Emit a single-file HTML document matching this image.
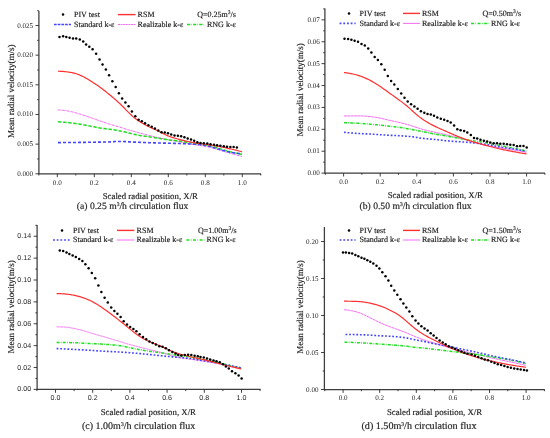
<!DOCTYPE html>
<html><head><meta charset="utf-8"><style>
html,body{margin:0;padding:0;background:#fff;width:550px;height:438px;overflow:hidden}
svg{display:block;filter:blur(0.3px)}
text{stroke:#1e1e1e;stroke-width:0.16px}
.tk text{stroke:none}
</style></head><body>
<svg width="550" height="438" viewBox="0 0 550 438" text-rendering="geometricPrecision">
<rect width="550" height="438" fill="#fff"/>
<clipPath id="clipa"><rect x="39.5" y="11" width="222.1" height="162.2"/></clipPath>
<g clip-path="url(#clipa)" fill="none" stroke-linejoin="round">
<path d="M58.00 109.90 L59.00 109.97 L60.00 110.05 L61.00 110.13 L62.00 110.23 L63.00 110.34 L64.00 110.45 L65.00 110.58 L66.00 110.72 L67.00 110.87 L68.00 111.03 L69.00 111.21 L70.00 111.41 L71.00 111.63 L72.00 111.86 L73.00 112.11 L74.00 112.37 L75.00 112.64 L76.00 112.92 L77.00 113.20 L78.00 113.49 L79.00 113.79 L80.00 114.09 L81.00 114.40 L82.00 114.72 L83.00 115.05 L84.00 115.38 L85.00 115.72 L86.00 116.06 L87.00 116.41 L88.00 116.76 L89.00 117.11 L90.00 117.46 L91.00 117.81 L92.00 118.16 L93.00 118.51 L94.00 118.86 L95.00 119.21 L96.00 119.57 L97.00 119.92 L98.00 120.27 L99.00 120.62 L100.00 120.97 L101.00 121.31 L102.00 121.65 L103.00 121.99 L104.00 122.33 L105.00 122.66 L106.00 122.99 L107.00 123.32 L108.00 123.64 L109.00 123.96 L110.00 124.27 L111.00 124.58 L112.00 124.89 L113.00 125.18 L114.00 125.47 L115.00 125.75 L116.00 126.03 L117.00 126.30 L118.00 126.58 L119.00 126.86 L120.00 127.16 L121.00 127.47 L122.00 127.80 L123.00 128.13 L124.00 128.47 L125.00 128.80 L126.00 129.13 L127.00 129.45 L128.00 129.75 L129.00 130.04 L130.00 130.32 L131.00 130.59 L132.00 130.85 L133.00 131.12 L134.00 131.39 L135.00 131.66 L136.00 131.94 L137.00 132.22 L138.00 132.51 L139.00 132.79 L140.00 133.08 L141.00 133.36 L142.00 133.64 L143.00 133.91 L144.00 134.18 L145.00 134.44 L146.00 134.70 L147.00 134.96 L148.00 135.22 L149.00 135.47 L150.00 135.73 L151.00 135.98 L152.00 136.23 L153.00 136.48 L154.00 136.72 L155.00 136.95 L156.00 137.18 L157.00 137.40 L158.00 137.61 L159.00 137.81 L160.00 138.01 L161.00 138.20 L162.00 138.40 L163.00 138.59 L164.00 138.79 L165.00 138.99 L166.00 139.20 L167.00 139.40 L168.00 139.60 L169.00 139.81 L170.00 140.01 L171.00 140.21 L172.00 140.41 L173.00 140.60 L174.00 140.80 L175.00 140.99 L176.00 141.18 L177.00 141.37 L178.00 141.56 L179.00 141.75 L180.00 141.95 L181.00 142.14 L182.00 142.33 L183.00 142.52 L184.00 142.71 L185.00 142.91 L186.00 143.10 L187.00 143.30 L188.00 143.50 L189.00 143.69 L190.00 143.88 L191.00 144.07 L192.00 144.25 L193.00 144.42 L194.00 144.59 L195.00 144.74 L196.00 144.90 L197.00 145.05 L198.00 145.20 L199.00 145.36 L200.00 145.51 L201.00 145.67 L202.00 145.83 L203.00 146.00 L204.00 146.17 L205.00 146.34 L206.00 146.53 L207.00 146.71 L208.00 146.91 L209.00 147.12 L210.00 147.34 L211.00 147.57 L212.00 147.82 L213.00 148.08 L214.00 148.36 L215.00 148.65 L216.00 148.95 L217.00 149.26 L218.00 149.57 L219.00 149.88 L220.00 150.20 L221.00 150.51 L222.00 150.82 L223.00 151.12 L224.00 151.42 L225.00 151.71 L226.00 152.00 L227.00 152.28 L228.00 152.57 L229.00 152.85 L230.00 153.13 L231.00 153.42 L232.00 153.70 L233.00 153.99 L234.00 154.28 L235.00 154.57 L236.00 154.86 L237.00 155.15 L238.00 155.44 L239.00 155.73 L240.00 156.02 L241.00 156.32 L242.00 156.61" stroke="#f46cf4" stroke-width="1.0" stroke-dasharray="2.5 0.5 0.8 0.5"/>
<path d="M58.00 121.80 L59.00 121.86 L60.00 121.92 L61.00 121.99 L62.00 122.06 L63.00 122.13 L64.00 122.21 L65.00 122.29 L66.00 122.38 L67.00 122.47 L68.00 122.57 L69.00 122.67 L70.00 122.78 L71.00 122.89 L72.00 123.01 L73.00 123.14 L74.00 123.27 L75.00 123.41 L76.00 123.55 L77.00 123.70 L78.00 123.85 L79.00 124.00 L80.00 124.17 L81.00 124.34 L82.00 124.51 L83.00 124.70 L84.00 124.89 L85.00 125.08 L86.00 125.27 L87.00 125.47 L88.00 125.67 L89.00 125.87 L90.00 126.06 L91.00 126.26 L92.00 126.46 L93.00 126.65 L94.00 126.85 L95.00 127.05 L96.00 127.24 L97.00 127.44 L98.00 127.62 L99.00 127.81 L100.00 127.98 L101.00 128.15 L102.00 128.31 L103.00 128.45 L104.00 128.59 L105.00 128.72 L106.00 128.84 L107.00 128.96 L108.00 129.07 L109.00 129.19 L110.00 129.31 L111.00 129.43 L112.00 129.56 L113.00 129.69 L114.00 129.84 L115.00 129.99 L116.00 130.16 L117.00 130.34 L118.00 130.52 L119.00 130.72 L120.00 130.93 L121.00 131.14 L122.00 131.36 L123.00 131.59 L124.00 131.83 L125.00 132.07 L126.00 132.31 L127.00 132.56 L128.00 132.80 L129.00 133.05 L130.00 133.30 L131.00 133.54 L132.00 133.79 L133.00 134.02 L134.00 134.26 L135.00 134.48 L136.00 134.69 L137.00 134.90 L138.00 135.10 L139.00 135.29 L140.00 135.47 L141.00 135.64 L142.00 135.80 L143.00 135.95 L144.00 136.10 L145.00 136.24 L146.00 136.38 L147.00 136.52 L148.00 136.66 L149.00 136.81 L150.00 136.96 L151.00 137.12 L152.00 137.28 L153.00 137.44 L154.00 137.60 L155.00 137.76 L156.00 137.92 L157.00 138.07 L158.00 138.22 L159.00 138.36 L160.00 138.50 L161.00 138.64 L162.00 138.79 L163.00 138.93 L164.00 139.09 L165.00 139.25 L166.00 139.41 L167.00 139.57 L168.00 139.73 L169.00 139.89 L170.00 140.03 L171.00 140.16 L172.00 140.28 L173.00 140.39 L174.00 140.49 L175.00 140.60 L176.00 140.70 L177.00 140.81 L178.00 140.93 L179.00 141.06 L180.00 141.20 L181.00 141.35 L182.00 141.51 L183.00 141.67 L184.00 141.84 L185.00 142.00 L186.00 142.15 L187.00 142.30 L188.00 142.44 L189.00 142.59 L190.00 142.73 L191.00 142.87 L192.00 143.02 L193.00 143.17 L194.00 143.32 L195.00 143.48 L196.00 143.64 L197.00 143.80 L198.00 143.96 L199.00 144.12 L200.00 144.28 L201.00 144.42 L202.00 144.56 L203.00 144.70 L204.00 144.84 L205.00 144.97 L206.00 145.11 L207.00 145.26 L208.00 145.42 L209.00 145.59 L210.00 145.78 L211.00 146.00 L212.00 146.24 L213.00 146.51 L214.00 146.80 L215.00 147.11 L216.00 147.44 L217.00 147.78 L218.00 148.13 L219.00 148.48 L220.00 148.82 L221.00 149.16 L222.00 149.48 L223.00 149.79 L224.00 150.08 L225.00 150.37 L226.00 150.64 L227.00 150.90 L228.00 151.16 L229.00 151.41 L230.00 151.66 L231.00 151.91 L232.00 152.16 L233.00 152.40 L234.00 152.64 L235.00 152.88 L236.00 153.12 L237.00 153.36 L238.00 153.60 L239.00 153.83 L240.00 154.07 L241.00 154.30 L242.00 154.53" stroke="#1fe01f" stroke-width="1.5" stroke-dasharray="3.5 1.6"/>
<path d="M58.00 142.60 L59.00 142.59 L60.00 142.59 L61.00 142.58 L62.00 142.58 L63.00 142.57 L64.00 142.56 L65.00 142.56 L66.00 142.55 L67.00 142.54 L68.00 142.53 L69.00 142.52 L70.00 142.52 L71.00 142.51 L72.00 142.50 L73.00 142.49 L74.00 142.48 L75.00 142.47 L76.00 142.45 L77.00 142.44 L78.00 142.43 L79.00 142.42 L80.00 142.40 L81.00 142.39 L82.00 142.38 L83.00 142.36 L84.00 142.35 L85.00 142.33 L86.00 142.32 L87.00 142.30 L88.00 142.29 L89.00 142.27 L90.00 142.26 L91.00 142.24 L92.00 142.23 L93.00 142.21 L94.00 142.20 L95.00 142.18 L96.00 142.17 L97.00 142.15 L98.00 142.14 L99.00 142.13 L100.00 142.12 L101.00 142.10 L102.00 142.09 L103.00 142.07 L104.00 142.06 L105.00 142.04 L106.00 142.02 L107.00 142.00 L108.00 141.97 L109.00 141.94 L110.00 141.90 L111.00 141.85 L112.00 141.79 L113.00 141.72 L114.00 141.64 L115.00 141.57 L116.00 141.51 L117.00 141.47 L118.00 141.44 L119.00 141.43 L120.00 141.43 L121.00 141.45 L122.00 141.47 L123.00 141.51 L124.00 141.55 L125.00 141.61 L126.00 141.66 L127.00 141.72 L128.00 141.78 L129.00 141.83 L130.00 141.89 L131.00 141.94 L132.00 141.99 L133.00 142.03 L134.00 142.08 L135.00 142.12 L136.00 142.17 L137.00 142.21 L138.00 142.25 L139.00 142.30 L140.00 142.34 L141.00 142.38 L142.00 142.42 L143.00 142.47 L144.00 142.51 L145.00 142.55 L146.00 142.58 L147.00 142.62 L148.00 142.66 L149.00 142.69 L150.00 142.72 L151.00 142.76 L152.00 142.79 L153.00 142.82 L154.00 142.84 L155.00 142.87 L156.00 142.90 L157.00 142.93 L158.00 142.95 L159.00 142.98 L160.00 143.00 L161.00 143.03 L162.00 143.06 L163.00 143.08 L164.00 143.11 L165.00 143.14 L166.00 143.16 L167.00 143.19 L168.00 143.22 L169.00 143.24 L170.00 143.27 L171.00 143.29 L172.00 143.32 L173.00 143.35 L174.00 143.38 L175.00 143.40 L176.00 143.43 L177.00 143.47 L178.00 143.50 L179.00 143.53 L180.00 143.57 L181.00 143.60 L182.00 143.64 L183.00 143.68 L184.00 143.72 L185.00 143.76 L186.00 143.80 L187.00 143.84 L188.00 143.89 L189.00 143.93 L190.00 143.98 L191.00 144.02 L192.00 144.07 L193.00 144.11 L194.00 144.16 L195.00 144.21 L196.00 144.26 L197.00 144.32 L198.00 144.39 L199.00 144.47 L200.00 144.57 L201.00 144.69 L202.00 144.83 L203.00 144.99 L204.00 145.18 L205.00 145.38 L206.00 145.60 L207.00 145.84 L208.00 146.08 L209.00 146.33 L210.00 146.59 L211.00 146.86 L212.00 147.13 L213.00 147.42 L214.00 147.71 L215.00 148.01 L216.00 148.32 L217.00 148.63 L218.00 148.94 L219.00 149.25 L220.00 149.56 L221.00 149.85 L222.00 150.14 L223.00 150.42 L224.00 150.69 L225.00 150.95 L226.00 151.21 L227.00 151.46 L228.00 151.69 L229.00 151.92 L230.00 152.14 L231.00 152.34 L232.00 152.52 L233.00 152.69 L234.00 152.84 L235.00 152.98 L236.00 153.11 L237.00 153.23 L238.00 153.34 L239.00 153.44 L240.00 153.53 L241.00 153.61 L242.00 153.69" stroke="#4444ff" stroke-width="1.6" stroke-dasharray="3 2"/>
<path d="M58.00 71.20 L59.00 71.24 L60.00 71.29 L61.00 71.34 L62.00 71.40 L63.00 71.47 L64.00 71.55 L65.00 71.64 L66.00 71.75 L67.00 71.86 L68.00 72.00 L69.00 72.15 L70.00 72.32 L71.00 72.50 L72.00 72.70 L73.00 72.93 L74.00 73.17 L75.00 73.44 L76.00 73.73 L77.00 74.05 L78.00 74.40 L79.00 74.78 L80.00 75.18 L81.00 75.62 L82.00 76.08 L83.00 76.57 L84.00 77.09 L85.00 77.62 L86.00 78.18 L87.00 78.75 L88.00 79.35 L89.00 79.95 L90.00 80.57 L91.00 81.20 L92.00 81.84 L93.00 82.48 L94.00 83.13 L95.00 83.78 L96.00 84.44 L97.00 85.11 L98.00 85.79 L99.00 86.49 L100.00 87.21 L101.00 87.95 L102.00 88.71 L103.00 89.48 L104.00 90.26 L105.00 91.05 L106.00 91.84 L107.00 92.64 L108.00 93.43 L109.00 94.23 L110.00 95.03 L111.00 95.84 L112.00 96.67 L113.00 97.51 L114.00 98.38 L115.00 99.27 L116.00 100.16 L117.00 101.06 L118.00 101.96 L119.00 102.88 L120.00 103.81 L121.00 104.76 L122.00 105.74 L123.00 106.75 L124.00 107.77 L125.00 108.80 L126.00 109.82 L127.00 110.84 L128.00 111.84 L129.00 112.83 L130.00 113.81 L131.00 114.78 L132.00 115.72 L133.00 116.62 L134.00 117.47 L135.00 118.28 L136.00 119.05 L137.00 119.77 L138.00 120.47 L139.00 121.13 L140.00 121.78 L141.00 122.40 L142.00 123.00 L143.00 123.58 L144.00 124.14 L145.00 124.68 L146.00 125.20 L147.00 125.71 L148.00 126.21 L149.00 126.70 L150.00 127.18 L151.00 127.65 L152.00 128.12 L153.00 128.58 L154.00 129.04 L155.00 129.51 L156.00 129.98 L157.00 130.45 L158.00 130.94 L159.00 131.43 L160.00 131.93 L161.00 132.43 L162.00 132.94 L163.00 133.45 L164.00 133.96 L165.00 134.46 L166.00 134.94 L167.00 135.40 L168.00 135.84 L169.00 136.25 L170.00 136.63 L171.00 136.99 L172.00 137.32 L173.00 137.63 L174.00 137.93 L175.00 138.22 L176.00 138.50 L177.00 138.77 L178.00 139.04 L179.00 139.31 L180.00 139.58 L181.00 139.84 L182.00 140.10 L183.00 140.36 L184.00 140.61 L185.00 140.85 L186.00 141.08 L187.00 141.31 L188.00 141.53 L189.00 141.74 L190.00 141.94 L191.00 142.13 L192.00 142.32 L193.00 142.51 L194.00 142.68 L195.00 142.85 L196.00 143.01 L197.00 143.17 L198.00 143.32 L199.00 143.46 L200.00 143.60 L201.00 143.73 L202.00 143.87 L203.00 144.00 L204.00 144.13 L205.00 144.26 L206.00 144.40 L207.00 144.53 L208.00 144.67 L209.00 144.80 L210.00 144.94 L211.00 145.09 L212.00 145.24 L213.00 145.39 L214.00 145.55 L215.00 145.72 L216.00 145.89 L217.00 146.07 L218.00 146.25 L219.00 146.44 L220.00 146.64 L221.00 146.84 L222.00 147.04 L223.00 147.25 L224.00 147.46 L225.00 147.68 L226.00 147.91 L227.00 148.13 L228.00 148.36 L229.00 148.58 L230.00 148.81 L231.00 149.04 L232.00 149.26 L233.00 149.49 L234.00 149.72 L235.00 149.96 L236.00 150.20 L237.00 150.45 L238.00 150.71 L239.00 150.97 L240.00 151.25 L241.00 151.53 L242.00 151.81" stroke="#ff3030" stroke-width="1.2"/>
</g>
<g fill="#000000">
<circle cx="59.5" cy="37" r="1.25"/>
<circle cx="63.1" cy="36.3" r="1.25"/>
<circle cx="66.3" cy="37" r="1.25"/>
<circle cx="69.6" cy="37.7" r="1.25"/>
<circle cx="73" cy="38.4" r="1.25"/>
<circle cx="76.2" cy="38.4" r="1.25"/>
<circle cx="79.8" cy="39.5" r="1.25"/>
<circle cx="83.2" cy="41.6" r="1.25"/>
<circle cx="86.1" cy="44.5" r="1.25"/>
<circle cx="89.3" cy="46.7" r="1.25"/>
<circle cx="92.6" cy="49.3" r="1.25"/>
<circle cx="96.1" cy="53.7" r="1.25"/>
<circle cx="99.5" cy="59.4" r="1.25"/>
<circle cx="102.55" cy="64.45" r="1.25"/>
<circle cx="105.85" cy="69.5" r="1.25"/>
<circle cx="109.1" cy="75.15" r="1.25"/>
<circle cx="112.4" cy="81.2" r="1.25"/>
<circle cx="115.7" cy="87.05" r="1.25"/>
<circle cx="118.9" cy="93.2" r="1.25"/>
<circle cx="122.15" cy="98.45" r="1.25"/>
<circle cx="125.4" cy="102.45" r="1.25"/>
<circle cx="128.6" cy="106.15" r="1.25"/>
<circle cx="131.9" cy="111.5" r="1.25"/>
<circle cx="135.3" cy="116.2" r="1.25"/>
<circle cx="138.6" cy="119.8" r="1.25"/>
<circle cx="141.8" cy="121.3" r="1.25"/>
<circle cx="145" cy="123.2" r="1.25"/>
<circle cx="148.4" cy="125.2" r="1.25"/>
<circle cx="151.7" cy="126.8" r="1.25"/>
<circle cx="154.9" cy="128.5" r="1.25"/>
<circle cx="158.3" cy="130.4" r="1.25"/>
<circle cx="161.5" cy="132.2" r="1.25"/>
<circle cx="164.8" cy="132.6" r="1.25"/>
<circle cx="168" cy="133.3" r="1.25"/>
<circle cx="171.2" cy="134.4" r="1.25"/>
<circle cx="174.5" cy="135.4" r="1.25"/>
<circle cx="177.9" cy="135.8" r="1.25"/>
<circle cx="181.1" cy="136.3" r="1.25"/>
<circle cx="184.4" cy="137.3" r="1.25"/>
<circle cx="187.7" cy="138.45" r="1.25"/>
<circle cx="191" cy="139.5" r="1.25"/>
<circle cx="194.2" cy="140.75" r="1.25"/>
<circle cx="197.35" cy="142.2" r="1.25"/>
<circle cx="200.5" cy="142.9" r="1.25"/>
<circle cx="203.8" cy="143.3" r="1.25"/>
<circle cx="207.3" cy="143.5" r="1.25"/>
<circle cx="210.5" cy="144.2" r="1.25"/>
<circle cx="214" cy="144.8" r="1.25"/>
<circle cx="217.1" cy="145.2" r="1.25"/>
<circle cx="220.4" cy="145.8" r="1.25"/>
<circle cx="223.8" cy="146.3" r="1.25"/>
<circle cx="227" cy="146.7" r="1.25"/>
<circle cx="230.4" cy="147.1" r="1.25"/>
<circle cx="233.6" cy="147.1" r="1.25"/>
<circle cx="236.9" cy="147.4" r="1.25"/>
</g>
<path d="M38.9 11 V173.8 H261" fill="none" stroke="#3c3c3c" stroke-width="1.25"/>
<path d="M35.5 173.8 H38.9 M37.2 158.97 H38.9 M35.5 144.14 H38.9 M37.2 129.31 H38.9 M35.5 114.48 H38.9 M37.2 99.65 H38.9 M35.5 84.82 H38.9 M37.2 69.99 H38.9 M35.5 55.16 H38.9 M37.2 40.33 H38.9 M35.5 25.5 H38.9 M37.2 10.67 H38.9 M38.8 173.8 V175.5 M57.3 173.8 V177.2 M75.8 173.8 V175.5 M94.3 173.8 V177.2 M112.8 173.8 V175.5 M131.3 173.8 V177.2 M149.8 173.8 V175.5 M168.3 173.8 V177.2 M186.8 173.8 V175.5 M205.3 173.8 V177.2 M223.8 173.8 V175.5 M242.3 173.8 V177.2 M260.8 173.8 V175.5" fill="none" stroke="#2a2a2a" stroke-width="0.9"/>
<g class="tk" font-family='"Liberation Serif", serif' font-size="7.1" fill="#262626">
<text x="33.1" y="175.81" text-anchor="end">0.000</text>
<text x="33.1" y="146.15" text-anchor="end">0.005</text>
<text x="33.1" y="116.49" text-anchor="end">0.010</text>
<text x="33.1" y="86.83" text-anchor="end">0.015</text>
<text x="33.1" y="57.17" text-anchor="end">0.020</text>
<text x="33.1" y="27.51" text-anchor="end">0.025</text>
<text x="57.3" y="184.71" text-anchor="middle">0.0</text>
<text x="94.3" y="184.71" text-anchor="middle">0.2</text>
<text x="131.3" y="184.71" text-anchor="middle">0.4</text>
<text x="168.3" y="184.71" text-anchor="middle">0.6</text>
<text x="205.3" y="184.71" text-anchor="middle">0.8</text>
<text x="242.3" y="184.71" text-anchor="middle">1.0</text>
</g>
<g font-family='"Liberation Serif", serif' font-size="8.0" fill="#1e1e1e">
<circle cx="63" cy="14.6" r="1.25" fill="#000"/>
<text x="74" y="17">PIV test</text>
<text x="74" y="26.9">Standard k-&#949;</text>
<text x="137.6" y="17">RSM</text>
<text x="137.6" y="26.9">Realizable k-&#949;</text>
<text x="197.3" y="17">Q=0.25m<tspan font-size="5.5" dy="-3">3</tspan><tspan dy="3">/s</tspan></text>
<text x="207" y="26.9">RNG k-&#949;</text>
</g>
<path d="M54 24.5 H71" stroke="#4444ff" stroke-width="1.6" stroke-dasharray="2.7 1"/>
<path d="M118 14.6 H135.5" stroke="#ff3030" stroke-width="1.4"/>
<path d="M118 24.5 H135.5" stroke="#f46cf4" stroke-width="1.0" stroke-dasharray="2 0.6"/>
<path d="M187 24.5 H203.6" stroke="#1fe01f" stroke-width="1.5" stroke-dasharray="3.2 0.8 0.6 1.5"/>
<text x="102.7" y="198.8" font-family='"Liberation Serif", serif' font-size="8.8" fill="#1e1e1e">Scaled radial position, X/R</text>
<text x="76.8" y="209" font-family='"Liberation Serif", serif' font-size="9.65" fill="#1e1e1e">(a) 0.25 m<tspan font-size="5.6" dy="-3.0">3</tspan><tspan dy="3.0">/h circulation flux</tspan></text>
<text transform="translate(13.5 138) rotate(-90)" font-family='"Liberation Serif", serif' font-size="9.0" fill="#1e1e1e">Mean radial velocity(m/s)</text>
<clipPath id="clipb"><rect x="325.5" y="8.5" width="220.1" height="164"/></clipPath>
<g clip-path="url(#clipb)" fill="none" stroke-linejoin="round">
<path d="M344.00 116.00 L345.00 115.99 L346.00 115.97 L347.00 115.96 L348.00 115.95 L349.00 115.94 L350.00 115.93 L351.00 115.92 L352.00 115.92 L353.00 115.91 L354.00 115.91 L355.00 115.91 L356.00 115.90 L357.00 115.90 L358.00 115.90 L359.00 115.91 L360.00 115.91 L361.00 115.93 L362.00 115.95 L363.00 115.98 L364.00 116.03 L365.00 116.09 L366.00 116.16 L367.00 116.24 L368.00 116.34 L369.00 116.45 L370.00 116.56 L371.00 116.68 L372.00 116.81 L373.00 116.94 L374.00 117.08 L375.00 117.22 L376.00 117.38 L377.00 117.54 L378.00 117.71 L379.00 117.90 L380.00 118.10 L381.00 118.31 L382.00 118.53 L383.00 118.76 L384.00 119.00 L385.00 119.24 L386.00 119.48 L387.00 119.72 L388.00 119.95 L389.00 120.19 L390.00 120.41 L391.00 120.64 L392.00 120.86 L393.00 121.08 L394.00 121.29 L395.00 121.50 L396.00 121.72 L397.00 121.94 L398.00 122.15 L399.00 122.38 L400.00 122.61 L401.00 122.84 L402.00 123.08 L403.00 123.33 L404.00 123.59 L405.00 123.86 L406.00 124.14 L407.00 124.42 L408.00 124.71 L409.00 125.01 L410.00 125.32 L411.00 125.63 L412.00 125.94 L413.00 126.27 L414.00 126.59 L415.00 126.92 L416.00 127.25 L417.00 127.58 L418.00 127.91 L419.00 128.24 L420.00 128.55 L421.00 128.86 L422.00 129.16 L423.00 129.45 L424.00 129.73 L425.00 129.99 L426.00 130.24 L427.00 130.49 L428.00 130.72 L429.00 130.95 L430.00 131.17 L431.00 131.38 L432.00 131.59 L433.00 131.81 L434.00 132.01 L435.00 132.22 L436.00 132.44 L437.00 132.65 L438.00 132.87 L439.00 133.09 L440.00 133.31 L441.00 133.53 L442.00 133.76 L443.00 133.98 L444.00 134.21 L445.00 134.44 L446.00 134.67 L447.00 134.91 L448.00 135.14 L449.00 135.38 L450.00 135.62 L451.00 135.86 L452.00 136.11 L453.00 136.36 L454.00 136.62 L455.00 136.88 L456.00 137.15 L457.00 137.42 L458.00 137.69 L459.00 137.97 L460.00 138.25 L461.00 138.53 L462.00 138.82 L463.00 139.10 L464.00 139.39 L465.00 139.68 L466.00 139.97 L467.00 140.26 L468.00 140.55 L469.00 140.84 L470.00 141.14 L471.00 141.44 L472.00 141.73 L473.00 142.03 L474.00 142.33 L475.00 142.62 L476.00 142.91 L477.00 143.19 L478.00 143.46 L479.00 143.71 L480.00 143.96 L481.00 144.20 L482.00 144.42 L483.00 144.63 L484.00 144.84 L485.00 145.04 L486.00 145.24 L487.00 145.43 L488.00 145.62 L489.00 145.81 L490.00 146.00 L491.00 146.18 L492.00 146.37 L493.00 146.55 L494.00 146.73 L495.00 146.91 L496.00 147.09 L497.00 147.27 L498.00 147.45 L499.00 147.62 L500.00 147.80 L501.00 147.97 L502.00 148.15 L503.00 148.32 L504.00 148.49 L505.00 148.66 L506.00 148.83 L507.00 149.00 L508.00 149.17 L509.00 149.33 L510.00 149.48 L511.00 149.64 L512.00 149.79 L513.00 149.94 L514.00 150.08 L515.00 150.23 L516.00 150.38 L517.00 150.53 L518.00 150.69 L519.00 150.86 L520.00 151.04 L521.00 151.23 L522.00 151.44 L523.00 151.65 L524.00 151.88 L525.00 152.11 L526.00 152.35 L526.50 152.48" stroke="#f46cf4" stroke-width="1.0" stroke-dasharray="3 0.4"/>
<path d="M344.00 122.70 L345.00 122.73 L346.00 122.76 L347.00 122.79 L348.00 122.82 L349.00 122.86 L350.00 122.89 L351.00 122.93 L352.00 122.98 L353.00 123.02 L354.00 123.07 L355.00 123.12 L356.00 123.17 L357.00 123.22 L358.00 123.28 L359.00 123.34 L360.00 123.40 L361.00 123.47 L362.00 123.54 L363.00 123.61 L364.00 123.68 L365.00 123.76 L366.00 123.84 L367.00 123.93 L368.00 124.01 L369.00 124.09 L370.00 124.18 L371.00 124.27 L372.00 124.36 L373.00 124.45 L374.00 124.55 L375.00 124.64 L376.00 124.74 L377.00 124.84 L378.00 124.95 L379.00 125.05 L380.00 125.16 L381.00 125.26 L382.00 125.37 L383.00 125.48 L384.00 125.59 L385.00 125.70 L386.00 125.81 L387.00 125.92 L388.00 126.03 L389.00 126.13 L390.00 126.24 L391.00 126.35 L392.00 126.46 L393.00 126.57 L394.00 126.69 L395.00 126.80 L396.00 126.92 L397.00 127.05 L398.00 127.18 L399.00 127.31 L400.00 127.45 L401.00 127.60 L402.00 127.76 L403.00 127.92 L404.00 128.09 L405.00 128.27 L406.00 128.45 L407.00 128.64 L408.00 128.82 L409.00 129.01 L410.00 129.20 L411.00 129.39 L412.00 129.58 L413.00 129.77 L414.00 129.96 L415.00 130.15 L416.00 130.34 L417.00 130.53 L418.00 130.73 L419.00 130.92 L420.00 131.12 L421.00 131.31 L422.00 131.51 L423.00 131.71 L424.00 131.91 L425.00 132.11 L426.00 132.31 L427.00 132.51 L428.00 132.72 L429.00 132.92 L430.00 133.12 L431.00 133.32 L432.00 133.52 L433.00 133.71 L434.00 133.90 L435.00 134.07 L436.00 134.24 L437.00 134.40 L438.00 134.56 L439.00 134.72 L440.00 134.87 L441.00 135.02 L442.00 135.18 L443.00 135.34 L444.00 135.51 L445.00 135.69 L446.00 135.87 L447.00 136.06 L448.00 136.26 L449.00 136.46 L450.00 136.66 L451.00 136.86 L452.00 137.05 L453.00 137.25 L454.00 137.43 L455.00 137.62 L456.00 137.80 L457.00 137.98 L458.00 138.15 L459.00 138.33 L460.00 138.50 L461.00 138.68 L462.00 138.85 L463.00 139.03 L464.00 139.21 L465.00 139.39 L466.00 139.56 L467.00 139.74 L468.00 139.92 L469.00 140.09 L470.00 140.25 L471.00 140.42 L472.00 140.57 L473.00 140.72 L474.00 140.87 L475.00 141.01 L476.00 141.16 L477.00 141.30 L478.00 141.44 L479.00 141.59 L480.00 141.74 L481.00 141.90 L482.00 142.06 L483.00 142.23 L484.00 142.40 L485.00 142.58 L486.00 142.76 L487.00 142.94 L488.00 143.13 L489.00 143.32 L490.00 143.51 L491.00 143.70 L492.00 143.89 L493.00 144.09 L494.00 144.29 L495.00 144.49 L496.00 144.69 L497.00 144.89 L498.00 145.09 L499.00 145.30 L500.00 145.50 L501.00 145.70 L502.00 145.90 L503.00 146.10 L504.00 146.30 L505.00 146.50 L506.00 146.70 L507.00 146.90 L508.00 147.10 L509.00 147.30 L510.00 147.49 L511.00 147.69 L512.00 147.88 L513.00 148.08 L514.00 148.27 L515.00 148.47 L516.00 148.67 L517.00 148.87 L518.00 149.09 L519.00 149.31 L520.00 149.54 L521.00 149.78 L522.00 150.03 L523.00 150.29 L524.00 150.56 L525.00 150.84 L526.00 151.13 L526.50 151.27" stroke="#1fe01f" stroke-width="1.5" stroke-dasharray="3 1.2 0.8 1.2"/>
<path d="M344.00 132.30 L345.00 132.40 L346.00 132.50 L347.00 132.59 L348.00 132.69 L349.00 132.78 L350.00 132.87 L351.00 132.96 L352.00 133.04 L353.00 133.12 L354.00 133.20 L355.00 133.27 L356.00 133.34 L357.00 133.40 L358.00 133.46 L359.00 133.51 L360.00 133.57 L361.00 133.62 L362.00 133.66 L363.00 133.71 L364.00 133.75 L365.00 133.80 L366.00 133.84 L367.00 133.89 L368.00 133.93 L369.00 133.98 L370.00 134.03 L371.00 134.09 L372.00 134.15 L373.00 134.21 L374.00 134.27 L375.00 134.34 L376.00 134.41 L377.00 134.48 L378.00 134.55 L379.00 134.63 L380.00 134.70 L381.00 134.77 L382.00 134.84 L383.00 134.91 L384.00 134.97 L385.00 135.04 L386.00 135.09 L387.00 135.15 L388.00 135.20 L389.00 135.25 L390.00 135.30 L391.00 135.35 L392.00 135.39 L393.00 135.44 L394.00 135.48 L395.00 135.53 L396.00 135.57 L397.00 135.62 L398.00 135.67 L399.00 135.73 L400.00 135.78 L401.00 135.84 L402.00 135.90 L403.00 135.96 L404.00 136.03 L405.00 136.10 L406.00 136.18 L407.00 136.25 L408.00 136.34 L409.00 136.43 L410.00 136.53 L411.00 136.64 L412.00 136.76 L413.00 136.89 L414.00 137.03 L415.00 137.18 L416.00 137.34 L417.00 137.49 L418.00 137.65 L419.00 137.81 L420.00 137.96 L421.00 138.11 L422.00 138.25 L423.00 138.39 L424.00 138.51 L425.00 138.62 L426.00 138.72 L427.00 138.82 L428.00 138.91 L429.00 139.00 L430.00 139.08 L431.00 139.16 L432.00 139.25 L433.00 139.33 L434.00 139.42 L435.00 139.52 L436.00 139.62 L437.00 139.72 L438.00 139.82 L439.00 139.93 L440.00 140.04 L441.00 140.16 L442.00 140.27 L443.00 140.38 L444.00 140.49 L445.00 140.59 L446.00 140.70 L447.00 140.81 L448.00 140.91 L449.00 141.01 L450.00 141.11 L451.00 141.20 L452.00 141.28 L453.00 141.36 L454.00 141.43 L455.00 141.50 L456.00 141.56 L457.00 141.61 L458.00 141.67 L459.00 141.72 L460.00 141.78 L461.00 141.84 L462.00 141.90 L463.00 141.97 L464.00 142.04 L465.00 142.12 L466.00 142.21 L467.00 142.29 L468.00 142.38 L469.00 142.47 L470.00 142.57 L471.00 142.66 L472.00 142.75 L473.00 142.85 L474.00 142.94 L475.00 143.04 L476.00 143.13 L477.00 143.24 L478.00 143.34 L479.00 143.45 L480.00 143.56 L481.00 143.68 L482.00 143.81 L483.00 143.94 L484.00 144.08 L485.00 144.22 L486.00 144.37 L487.00 144.52 L488.00 144.68 L489.00 144.85 L490.00 145.03 L491.00 145.21 L492.00 145.40 L493.00 145.59 L494.00 145.79 L495.00 146.00 L496.00 146.20 L497.00 146.40 L498.00 146.60 L499.00 146.79 L500.00 146.97 L501.00 147.14 L502.00 147.31 L503.00 147.47 L504.00 147.62 L505.00 147.77 L506.00 147.92 L507.00 148.06 L508.00 148.21 L509.00 148.35 L510.00 148.50 L511.00 148.64 L512.00 148.79 L513.00 148.93 L514.00 149.07 L515.00 149.22 L516.00 149.37 L517.00 149.52 L518.00 149.69 L519.00 149.86 L520.00 150.04 L521.00 150.23 L522.00 150.44 L523.00 150.65 L524.00 150.88 L525.00 151.11 L526.00 151.35 L526.50 151.48" stroke="#4444ff" stroke-width="1.6" stroke-dasharray="1.8 1.8"/>
<path d="M344.00 72.60 L345.00 72.71 L346.00 72.83 L347.00 72.96 L348.00 73.10 L349.00 73.26 L350.00 73.43 L351.00 73.62 L352.00 73.82 L353.00 74.03 L354.00 74.26 L355.00 74.50 L356.00 74.75 L357.00 75.01 L358.00 75.30 L359.00 75.61 L360.00 75.94 L361.00 76.30 L362.00 76.68 L363.00 77.07 L364.00 77.49 L365.00 77.92 L366.00 78.37 L367.00 78.83 L368.00 79.31 L369.00 79.80 L370.00 80.32 L371.00 80.85 L372.00 81.40 L373.00 81.97 L374.00 82.56 L375.00 83.16 L376.00 83.78 L377.00 84.41 L378.00 85.05 L379.00 85.70 L380.00 86.37 L381.00 87.04 L382.00 87.73 L383.00 88.43 L384.00 89.14 L385.00 89.86 L386.00 90.58 L387.00 91.30 L388.00 92.02 L389.00 92.73 L390.00 93.45 L391.00 94.16 L392.00 94.87 L393.00 95.58 L394.00 96.30 L395.00 97.01 L396.00 97.73 L397.00 98.45 L398.00 99.18 L399.00 99.91 L400.00 100.64 L401.00 101.38 L402.00 102.12 L403.00 102.87 L404.00 103.63 L405.00 104.40 L406.00 105.20 L407.00 106.02 L408.00 106.87 L409.00 107.74 L410.00 108.65 L411.00 109.57 L412.00 110.51 L413.00 111.45 L414.00 112.38 L415.00 113.29 L416.00 114.17 L417.00 115.02 L418.00 115.84 L419.00 116.62 L420.00 117.37 L421.00 118.09 L422.00 118.79 L423.00 119.47 L424.00 120.13 L425.00 120.77 L426.00 121.40 L427.00 122.02 L428.00 122.61 L429.00 123.20 L430.00 123.76 L431.00 124.32 L432.00 124.85 L433.00 125.37 L434.00 125.87 L435.00 126.36 L436.00 126.84 L437.00 127.31 L438.00 127.77 L439.00 128.23 L440.00 128.68 L441.00 129.13 L442.00 129.57 L443.00 130.01 L444.00 130.46 L445.00 130.90 L446.00 131.35 L447.00 131.79 L448.00 132.23 L449.00 132.67 L450.00 133.11 L451.00 133.54 L452.00 133.98 L453.00 134.41 L454.00 134.83 L455.00 135.25 L456.00 135.67 L457.00 136.08 L458.00 136.49 L459.00 136.90 L460.00 137.29 L461.00 137.68 L462.00 138.06 L463.00 138.43 L464.00 138.80 L465.00 139.16 L466.00 139.51 L467.00 139.85 L468.00 140.18 L469.00 140.51 L470.00 140.84 L471.00 141.15 L472.00 141.46 L473.00 141.76 L474.00 142.06 L475.00 142.35 L476.00 142.64 L477.00 142.92 L478.00 143.20 L479.00 143.48 L480.00 143.76 L481.00 144.04 L482.00 144.32 L483.00 144.60 L484.00 144.87 L485.00 145.15 L486.00 145.42 L487.00 145.69 L488.00 145.96 L489.00 146.23 L490.00 146.49 L491.00 146.76 L492.00 147.02 L493.00 147.28 L494.00 147.53 L495.00 147.79 L496.00 148.04 L497.00 148.28 L498.00 148.52 L499.00 148.75 L500.00 148.98 L501.00 149.20 L502.00 149.41 L503.00 149.62 L504.00 149.83 L505.00 150.03 L506.00 150.23 L507.00 150.42 L508.00 150.62 L509.00 150.81 L510.00 151.00 L511.00 151.18 L512.00 151.37 L513.00 151.55 L514.00 151.74 L515.00 151.92 L516.00 152.09 L517.00 152.27 L518.00 152.45 L519.00 152.62 L520.00 152.80 L521.00 152.97 L522.00 153.14 L523.00 153.30 L524.00 153.47 L525.00 153.64 L526.00 153.80 L526.50 153.88" stroke="#ff3030" stroke-width="1.2"/>
</g>
<g fill="#000000">
<circle cx="344.5" cy="38.8" r="1.25"/>
<circle cx="348.1" cy="39.1" r="1.25"/>
<circle cx="351.4" cy="39.8" r="1.25"/>
<circle cx="354.6" cy="40.7" r="1.25"/>
<circle cx="358" cy="41.7" r="1.25"/>
<circle cx="361.5" cy="43.9" r="1.25"/>
<circle cx="364.8" cy="45.4" r="1.25"/>
<circle cx="368.2" cy="48.6" r="1.25"/>
<circle cx="371.4" cy="52.6" r="1.25"/>
<circle cx="374.7" cy="57" r="1.25"/>
<circle cx="377.9" cy="59.9" r="1.25"/>
<circle cx="381.3" cy="64.3" r="1.25"/>
<circle cx="384.7" cy="69.8" r="1.25"/>
<circle cx="387.8" cy="75.9" r="1.25"/>
<circle cx="391.1" cy="81" r="1.25"/>
<circle cx="394.3" cy="84.6" r="1.25"/>
<circle cx="397.8" cy="89" r="1.25"/>
<circle cx="401.2" cy="93.4" r="1.25"/>
<circle cx="404.5" cy="97.7" r="1.25"/>
<circle cx="407.7" cy="101.4" r="1.25"/>
<circle cx="411.05" cy="104.15" r="1.25"/>
<circle cx="414.4" cy="106.6" r="1.25"/>
<circle cx="417.6" cy="108.8" r="1.25"/>
<circle cx="420.9" cy="111.3" r="1.25"/>
<circle cx="424.3" cy="112.7" r="1.25"/>
<circle cx="427.5" cy="113.9" r="1.25"/>
<circle cx="430.8" cy="114.6" r="1.25"/>
<circle cx="434" cy="115.8" r="1.25"/>
<circle cx="437.3" cy="117.5" r="1.25"/>
<circle cx="440.8" cy="118.7" r="1.25"/>
<circle cx="444.2" cy="119.7" r="1.25"/>
<circle cx="447.5" cy="120.9" r="1.25"/>
<circle cx="450.7" cy="122.6" r="1.25"/>
<circle cx="454.1" cy="125.5" r="1.25"/>
<circle cx="457.3" cy="129.2" r="1.25"/>
<circle cx="460.6" cy="130.2" r="1.25"/>
<circle cx="464.1" cy="130.9" r="1.25"/>
<circle cx="467.3" cy="132.5" r="1.25"/>
<circle cx="470.8" cy="135" r="1.25"/>
<circle cx="474" cy="137.9" r="1.25"/>
<circle cx="477.2" cy="138.6" r="1.25"/>
<circle cx="480.5" cy="139.8" r="1.25"/>
<circle cx="483.9" cy="140.8" r="1.25"/>
<circle cx="487.1" cy="141.5" r="1.25"/>
<circle cx="490.3" cy="142.5" r="1.25"/>
<circle cx="493.7" cy="143.3" r="1.25"/>
<circle cx="497" cy="143.3" r="1.25"/>
<circle cx="500.3" cy="143.7" r="1.25"/>
<circle cx="503.7" cy="143.7" r="1.25"/>
<circle cx="507" cy="144.3" r="1.25"/>
<circle cx="510.3" cy="144.8" r="1.25"/>
<circle cx="513.7" cy="145" r="1.25"/>
<circle cx="517" cy="146.3" r="1.25"/>
<circle cx="520.2" cy="146" r="1.25"/>
<circle cx="523.5" cy="146" r="1.25"/>
<circle cx="526.7" cy="147.5" r="1.25"/>
</g>
<path d="M324.9 8.5 V173.1 H545" fill="none" stroke="#3c3c3c" stroke-width="1.25"/>
<path d="M321.5 173.1 H324.9 M323.2 162.16 H324.9 M321.5 151.21 H324.9 M323.2 140.26 H324.9 M321.5 129.32 H324.9 M323.2 118.38 H324.9 M321.5 107.43 H324.9 M323.2 96.48 H324.9 M321.5 85.54 H324.9 M323.2 74.59 H324.9 M321.5 63.65 H324.9 M323.2 52.7 H324.9 M321.5 41.76 H324.9 M323.2 30.81 H324.9 M321.5 19.87 H324.9 M323.2 8.92 H324.9 M325.3 173.1 V174.8 M343.6 173.1 V176.5 M361.9 173.1 V174.8 M380.2 173.1 V176.5 M398.5 173.1 V174.8 M416.8 173.1 V176.5 M435.1 173.1 V174.8 M453.4 173.1 V176.5 M471.7 173.1 V174.8 M490 173.1 V176.5 M508.3 173.1 V174.8 M526.6 173.1 V176.5 M544.9 173.1 V174.8" fill="none" stroke="#2a2a2a" stroke-width="0.9"/>
<g class="tk" font-family='"Liberation Serif", serif' font-size="7.1" fill="#262626">
<text x="319.9" y="175.11" text-anchor="end">0.00</text>
<text x="319.9" y="153.22" text-anchor="end">0.01</text>
<text x="319.9" y="131.33" text-anchor="end">0.02</text>
<text x="319.9" y="109.44" text-anchor="end">0.03</text>
<text x="319.9" y="87.55" text-anchor="end">0.04</text>
<text x="319.9" y="65.66" text-anchor="end">0.05</text>
<text x="319.9" y="43.77" text-anchor="end">0.06</text>
<text x="319.9" y="21.88" text-anchor="end">0.07</text>
<text x="343.6" y="184.01" text-anchor="middle">0.0</text>
<text x="380.2" y="184.01" text-anchor="middle">0.2</text>
<text x="416.8" y="184.01" text-anchor="middle">0.4</text>
<text x="453.4" y="184.01" text-anchor="middle">0.6</text>
<text x="490" y="184.01" text-anchor="middle">0.8</text>
<text x="526.6" y="184.01" text-anchor="middle">1.0</text>
</g>
<g font-family='"Liberation Serif", serif' font-size="8.0" fill="#1e1e1e">
<circle cx="349" cy="13.4" r="1.25" fill="#000"/>
<text x="359.6" y="15.8">PIV test</text>
<text x="359.6" y="25.8">Standard k-&#949;</text>
<text x="422" y="15.8">RSM</text>
<text x="422" y="25.8">Realizable k-&#949;</text>
<text x="482.4" y="15.8">Q=0.50m<tspan font-size="5.5" dy="-3">3</tspan><tspan dy="3">/s</tspan></text>
<text x="491" y="25.8">RNG k-&#949;</text>
</g>
<path d="M339.6 23.4 H355.6" stroke="#4444ff" stroke-width="1.6" stroke-dasharray="1.8 1.9"/>
<path d="M403 13.4 H420" stroke="#ff3030" stroke-width="1.4"/>
<path d="M403 23.4 H420" stroke="#f46cf4" stroke-width="1.0" stroke-dasharray="none"/>
<path d="M471 23.4 H489" stroke="#1fe01f" stroke-width="1.5" stroke-dasharray="3 1.4 0.7 1.5"/>
<text x="387.7" y="198.3" font-family='"Liberation Serif", serif' font-size="8.8" fill="#1e1e1e">Scaled radial position, X/R</text>
<text x="359.5" y="208.5" font-family='"Liberation Serif", serif' font-size="9.65" fill="#1e1e1e">(b) 0.50 m<tspan font-size="5.6" dy="-3.0">3</tspan><tspan dy="3.0">/h circulation flux</tspan></text>
<text transform="translate(303.3 136.6) rotate(-90)" font-family='"Liberation Serif", serif' font-size="9.0" fill="#1e1e1e">Mean radial velocity(m/s)</text>
<clipPath id="clipc"><rect x="37.7" y="225" width="223.4" height="163.8"/></clipPath>
<g clip-path="url(#clipc)" fill="none" stroke-linejoin="round">
<path d="M56.60 326.80 L57.60 326.82 L58.60 326.84 L59.60 326.86 L60.60 326.89 L61.60 326.93 L62.60 326.97 L63.60 327.03 L64.60 327.09 L65.60 327.17 L66.60 327.26 L67.60 327.37 L68.60 327.50 L69.60 327.65 L70.60 327.81 L71.60 327.99 L72.60 328.18 L73.60 328.37 L74.60 328.57 L75.60 328.78 L76.60 328.99 L77.60 329.21 L78.60 329.44 L79.60 329.68 L80.60 329.94 L81.60 330.20 L82.60 330.47 L83.60 330.76 L84.60 331.06 L85.60 331.36 L86.60 331.67 L87.60 331.98 L88.60 332.29 L89.60 332.60 L90.60 332.90 L91.60 333.21 L92.60 333.51 L93.60 333.81 L94.60 334.11 L95.60 334.40 L96.60 334.69 L97.60 334.98 L98.60 335.26 L99.60 335.55 L100.60 335.83 L101.60 336.11 L102.60 336.40 L103.60 336.68 L104.60 336.98 L105.60 337.27 L106.60 337.58 L107.60 337.88 L108.60 338.19 L109.60 338.50 L110.60 338.80 L111.60 339.10 L112.60 339.39 L113.60 339.67 L114.60 339.95 L115.60 340.24 L116.60 340.52 L117.60 340.81 L118.60 341.11 L119.60 341.42 L120.60 341.74 L121.60 342.07 L122.60 342.40 L123.60 342.73 L124.60 343.05 L125.60 343.36 L126.60 343.66 L127.60 343.95 L128.60 344.23 L129.60 344.50 L130.60 344.77 L131.60 345.04 L132.60 345.30 L133.60 345.56 L134.60 345.82 L135.60 346.08 L136.60 346.34 L137.60 346.60 L138.60 346.86 L139.60 347.11 L140.60 347.37 L141.60 347.62 L142.60 347.87 L143.60 348.12 L144.60 348.37 L145.60 348.62 L146.60 348.87 L147.60 349.12 L148.60 349.37 L149.60 349.62 L150.60 349.87 L151.60 350.11 L152.60 350.35 L153.60 350.60 L154.60 350.84 L155.60 351.08 L156.60 351.33 L157.60 351.57 L158.60 351.82 L159.60 352.07 L160.60 352.33 L161.60 352.59 L162.60 352.86 L163.60 353.14 L164.60 353.43 L165.60 353.72 L166.60 354.03 L167.60 354.35 L168.60 354.67 L169.60 354.99 L170.60 355.31 L171.60 355.62 L172.60 355.92 L173.60 356.21 L174.60 356.48 L175.60 356.73 L176.60 356.96 L177.60 357.18 L178.60 357.37 L179.60 357.56 L180.60 357.74 L181.60 357.90 L182.60 358.06 L183.60 358.22 L184.60 358.37 L185.60 358.52 L186.60 358.67 L187.60 358.82 L188.60 358.97 L189.60 359.12 L190.60 359.27 L191.60 359.42 L192.60 359.57 L193.60 359.72 L194.60 359.87 L195.60 360.02 L196.60 360.17 L197.60 360.32 L198.60 360.47 L199.60 360.62 L200.60 360.77 L201.60 360.92 L202.60 361.07 L203.60 361.22 L204.60 361.38 L205.60 361.53 L206.60 361.69 L207.60 361.85 L208.60 362.00 L209.60 362.16 L210.60 362.32 L211.60 362.48 L212.60 362.65 L213.60 362.82 L214.60 362.99 L215.60 363.16 L216.60 363.34 L217.60 363.53 L218.60 363.73 L219.60 363.93 L220.60 364.15 L221.60 364.37 L222.60 364.60 L223.60 364.84 L224.60 365.08 L225.60 365.32 L226.60 365.57 L227.60 365.81 L228.60 366.05 L229.60 366.29 L230.60 366.51 L231.60 366.74 L232.60 366.95 L233.60 367.15 L234.60 367.35 L235.60 367.54 L236.60 367.72 L237.60 367.90 L238.60 368.07 L239.60 368.24 L240.60 368.40 L241.10 368.48" stroke="#f46cf4" stroke-width="1.0" stroke-dasharray="3 0.4"/>
<path d="M56.60 342.50 L57.60 342.50 L58.60 342.51 L59.60 342.51 L60.60 342.52 L61.60 342.52 L62.60 342.53 L63.60 342.54 L64.60 342.55 L65.60 342.56 L66.60 342.58 L67.60 342.59 L68.60 342.61 L69.60 342.62 L70.60 342.64 L71.60 342.66 L72.60 342.68 L73.60 342.70 L74.60 342.73 L75.60 342.76 L76.60 342.80 L77.60 342.84 L78.60 342.89 L79.60 342.95 L80.60 343.00 L81.60 343.06 L82.60 343.13 L83.60 343.19 L84.60 343.25 L85.60 343.32 L86.60 343.38 L87.60 343.43 L88.60 343.49 L89.60 343.54 L90.60 343.59 L91.60 343.64 L92.60 343.69 L93.60 343.73 L94.60 343.78 L95.60 343.82 L96.60 343.87 L97.60 343.91 L98.60 343.96 L99.60 344.01 L100.60 344.06 L101.60 344.12 L102.60 344.17 L103.60 344.23 L104.60 344.29 L105.60 344.36 L106.60 344.43 L107.60 344.50 L108.60 344.57 L109.60 344.65 L110.60 344.72 L111.60 344.81 L112.60 344.90 L113.60 344.99 L114.60 345.09 L115.60 345.19 L116.60 345.30 L117.60 345.43 L118.60 345.56 L119.60 345.70 L120.60 345.86 L121.60 346.03 L122.60 346.20 L123.60 346.39 L124.60 346.58 L125.60 346.78 L126.60 346.99 L127.60 347.20 L128.60 347.42 L129.60 347.64 L130.60 347.86 L131.60 348.08 L132.60 348.29 L133.60 348.50 L134.60 348.70 L135.60 348.89 L136.60 349.09 L137.60 349.27 L138.60 349.46 L139.60 349.64 L140.60 349.81 L141.60 349.99 L142.60 350.16 L143.60 350.32 L144.60 350.49 L145.60 350.65 L146.60 350.81 L147.60 350.96 L148.60 351.11 L149.60 351.26 L150.60 351.40 L151.60 351.54 L152.60 351.67 L153.60 351.80 L154.60 351.93 L155.60 352.06 L156.60 352.19 L157.60 352.31 L158.60 352.44 L159.60 352.57 L160.60 352.70 L161.60 352.83 L162.60 352.97 L163.60 353.12 L164.60 353.27 L165.60 353.42 L166.60 353.58 L167.60 353.74 L168.60 353.91 L169.60 354.08 L170.60 354.24 L171.60 354.41 L172.60 354.57 L173.60 354.74 L174.60 354.89 L175.60 355.05 L176.60 355.19 L177.60 355.34 L178.60 355.47 L179.60 355.60 L180.60 355.73 L181.60 355.86 L182.60 355.98 L183.60 356.11 L184.60 356.24 L185.60 356.37 L186.60 356.50 L187.60 356.64 L188.60 356.79 L189.60 356.94 L190.60 357.11 L191.60 357.28 L192.60 357.46 L193.60 357.65 L194.60 357.84 L195.60 358.04 L196.60 358.24 L197.60 358.45 L198.60 358.66 L199.60 358.86 L200.60 359.07 L201.60 359.28 L202.60 359.49 L203.60 359.69 L204.60 359.89 L205.60 360.09 L206.60 360.29 L207.60 360.48 L208.60 360.68 L209.60 360.87 L210.60 361.06 L211.60 361.26 L212.60 361.46 L213.60 361.66 L214.60 361.86 L215.60 362.07 L216.60 362.28 L217.60 362.50 L218.60 362.72 L219.60 362.95 L220.60 363.18 L221.60 363.42 L222.60 363.66 L223.60 363.91 L224.60 364.16 L225.60 364.42 L226.60 364.67 L227.60 364.93 L228.60 365.20 L229.60 365.46 L230.60 365.72 L231.60 365.98 L232.60 366.24 L233.60 366.50 L234.60 366.76 L235.60 367.03 L236.60 367.29 L237.60 367.55 L238.60 367.81 L239.60 368.08 L240.60 368.34 L241.10 368.47" stroke="#1fe01f" stroke-width="1.5" stroke-dasharray="3 1.2 0.8 1.2"/>
<path d="M56.60 348.60 L57.60 348.64 L58.60 348.68 L59.60 348.73 L60.60 348.77 L61.60 348.81 L62.60 348.86 L63.60 348.90 L64.60 348.95 L65.60 348.99 L66.60 349.04 L67.60 349.09 L68.60 349.13 L69.60 349.18 L70.60 349.23 L71.60 349.28 L72.60 349.33 L73.60 349.38 L74.60 349.43 L75.60 349.48 L76.60 349.53 L77.60 349.58 L78.60 349.63 L79.60 349.69 L80.60 349.74 L81.60 349.80 L82.60 349.85 L83.60 349.91 L84.60 349.97 L85.60 350.02 L86.60 350.08 L87.60 350.14 L88.60 350.21 L89.60 350.27 L90.60 350.34 L91.60 350.40 L92.60 350.47 L93.60 350.54 L94.60 350.61 L95.60 350.69 L96.60 350.76 L97.60 350.83 L98.60 350.90 L99.60 350.97 L100.60 351.03 L101.60 351.09 L102.60 351.16 L103.60 351.21 L104.60 351.27 L105.60 351.32 L106.60 351.37 L107.60 351.42 L108.60 351.47 L109.60 351.51 L110.60 351.56 L111.60 351.61 L112.60 351.65 L113.60 351.70 L114.60 351.75 L115.60 351.80 L116.60 351.85 L117.60 351.90 L118.60 351.96 L119.60 352.01 L120.60 352.07 L121.60 352.13 L122.60 352.20 L123.60 352.26 L124.60 352.33 L125.60 352.40 L126.60 352.47 L127.60 352.54 L128.60 352.62 L129.60 352.70 L130.60 352.78 L131.60 352.86 L132.60 352.94 L133.60 353.03 L134.60 353.11 L135.60 353.20 L136.60 353.29 L137.60 353.38 L138.60 353.47 L139.60 353.57 L140.60 353.66 L141.60 353.76 L142.60 353.86 L143.60 353.95 L144.60 354.05 L145.60 354.15 L146.60 354.25 L147.60 354.35 L148.60 354.45 L149.60 354.55 L150.60 354.65 L151.60 354.76 L152.60 354.86 L153.60 354.96 L154.60 355.07 L155.60 355.17 L156.60 355.28 L157.60 355.38 L158.60 355.49 L159.60 355.59 L160.60 355.69 L161.60 355.80 L162.60 355.90 L163.60 356.00 L164.60 356.09 L165.60 356.19 L166.60 356.28 L167.60 356.38 L168.60 356.47 L169.60 356.57 L170.60 356.66 L171.60 356.75 L172.60 356.84 L173.60 356.93 L174.60 357.02 L175.60 357.12 L176.60 357.21 L177.60 357.29 L178.60 357.38 L179.60 357.47 L180.60 357.56 L181.60 357.64 L182.60 357.73 L183.60 357.82 L184.60 357.91 L185.60 358.01 L186.60 358.10 L187.60 358.21 L188.60 358.32 L189.60 358.44 L190.60 358.57 L191.60 358.70 L192.60 358.85 L193.60 359.00 L194.60 359.16 L195.60 359.32 L196.60 359.49 L197.60 359.66 L198.60 359.84 L199.60 360.01 L200.60 360.19 L201.60 360.36 L202.60 360.54 L203.60 360.71 L204.60 360.87 L205.60 361.04 L206.60 361.20 L207.60 361.37 L208.60 361.53 L209.60 361.69 L210.60 361.85 L211.60 362.02 L212.60 362.18 L213.60 362.35 L214.60 362.51 L215.60 362.68 L216.60 362.86 L217.60 363.03 L218.60 363.21 L219.60 363.39 L220.60 363.58 L221.60 363.77 L222.60 363.96 L223.60 364.15 L224.60 364.35 L225.60 364.55 L226.60 364.75 L227.60 364.95 L228.60 365.16 L229.60 365.36 L230.60 365.57 L231.60 365.77 L232.60 365.98 L233.60 366.19 L234.60 366.39 L235.60 366.60 L236.60 366.82 L237.60 367.03 L238.60 367.24 L239.60 367.46 L240.60 367.67 L241.10 367.78" stroke="#4444ff" stroke-width="1.6" stroke-dasharray="1.8 1.8"/>
<path d="M56.60 293.60 L57.60 293.62 L58.60 293.65 L59.60 293.68 L60.60 293.72 L61.60 293.77 L62.60 293.82 L63.60 293.89 L64.60 293.96 L65.60 294.04 L66.60 294.12 L67.60 294.23 L68.60 294.34 L69.60 294.48 L70.60 294.63 L71.60 294.80 L72.60 294.99 L73.60 295.19 L74.60 295.40 L75.60 295.63 L76.60 295.86 L77.60 296.11 L78.60 296.37 L79.60 296.64 L80.60 296.93 L81.60 297.23 L82.60 297.56 L83.60 297.90 L84.60 298.26 L85.60 298.63 L86.60 299.02 L87.60 299.44 L88.60 299.87 L89.60 300.32 L90.60 300.80 L91.60 301.29 L92.60 301.82 L93.60 302.36 L94.60 302.92 L95.60 303.50 L96.60 304.09 L97.60 304.70 L98.60 305.32 L99.60 305.96 L100.60 306.62 L101.60 307.29 L102.60 307.97 L103.60 308.68 L104.60 309.39 L105.60 310.11 L106.60 310.84 L107.60 311.58 L108.60 312.31 L109.60 313.06 L110.60 313.80 L111.60 314.55 L112.60 315.31 L113.60 316.06 L114.60 316.83 L115.60 317.59 L116.60 318.35 L117.60 319.12 L118.60 319.88 L119.60 320.65 L120.60 321.42 L121.60 322.20 L122.60 322.99 L123.60 323.80 L124.60 324.62 L125.60 325.45 L126.60 326.28 L127.60 327.12 L128.60 327.96 L129.60 328.78 L130.60 329.60 L131.60 330.40 L132.60 331.19 L133.60 331.97 L134.60 332.74 L135.60 333.49 L136.60 334.22 L137.60 334.94 L138.60 335.64 L139.60 336.31 L140.60 336.96 L141.60 337.58 L142.60 338.17 L143.60 338.74 L144.60 339.28 L145.60 339.79 L146.60 340.29 L147.60 340.77 L148.60 341.22 L149.60 341.67 L150.60 342.09 L151.60 342.51 L152.60 342.91 L153.60 343.31 L154.60 343.70 L155.60 344.09 L156.60 344.48 L157.60 344.88 L158.60 345.27 L159.60 345.67 L160.60 346.08 L161.60 346.49 L162.60 346.92 L163.60 347.37 L164.60 347.83 L165.60 348.31 L166.60 348.79 L167.60 349.28 L168.60 349.77 L169.60 350.24 L170.60 350.69 L171.60 351.13 L172.60 351.55 L173.60 351.94 L174.60 352.32 L175.60 352.68 L176.60 353.03 L177.60 353.36 L178.60 353.66 L179.60 353.96 L180.60 354.24 L181.60 354.51 L182.60 354.77 L183.60 355.03 L184.60 355.28 L185.60 355.53 L186.60 355.78 L187.60 356.03 L188.60 356.29 L189.60 356.53 L190.60 356.78 L191.60 357.02 L192.60 357.26 L193.60 357.49 L194.60 357.72 L195.60 357.94 L196.60 358.16 L197.60 358.38 L198.60 358.59 L199.60 358.81 L200.60 359.03 L201.60 359.25 L202.60 359.47 L203.60 359.70 L204.60 359.94 L205.60 360.17 L206.60 360.42 L207.60 360.67 L208.60 360.92 L209.60 361.17 L210.60 361.43 L211.60 361.69 L212.60 361.95 L213.60 362.21 L214.60 362.47 L215.60 362.73 L216.60 362.98 L217.60 363.24 L218.60 363.49 L219.60 363.75 L220.60 364.00 L221.60 364.25 L222.60 364.50 L223.60 364.75 L224.60 364.99 L225.60 365.24 L226.60 365.49 L227.60 365.73 L228.60 365.98 L229.60 366.22 L230.60 366.47 L231.60 366.71 L232.60 366.95 L233.60 367.19 L234.60 367.43 L235.60 367.67 L236.60 367.91 L237.60 368.15 L238.60 368.39 L239.60 368.62 L240.60 368.86 L241.10 368.98" stroke="#ff3030" stroke-width="1.2"/>
</g>
<g fill="#000000">
<circle cx="59.8" cy="250.5" r="1.25"/>
<circle cx="63.2" cy="251.1" r="1.25"/>
<circle cx="66.5" cy="252.6" r="1.25"/>
<circle cx="69.4" cy="254" r="1.25"/>
<circle cx="72.6" cy="255.5" r="1.25"/>
<circle cx="75.8" cy="256.9" r="1.25"/>
<circle cx="79.2" cy="259.1" r="1.25"/>
<circle cx="82.4" cy="261" r="1.25"/>
<circle cx="85.4" cy="264.3" r="1.25"/>
<circle cx="88.6" cy="268.3" r="1.25"/>
<circle cx="91.8" cy="272.9" r="1.25"/>
<circle cx="95.2" cy="278.2" r="1.25"/>
<circle cx="98.4" cy="285.5" r="1.25"/>
<circle cx="101.4" cy="292" r="1.25"/>
<circle cx="104.6" cy="297.7" r="1.25"/>
<circle cx="107.8" cy="302.6" r="1.25"/>
<circle cx="111.2" cy="307.5" r="1.25"/>
<circle cx="114.4" cy="310.9" r="1.25"/>
<circle cx="117.4" cy="313.8" r="1.25"/>
<circle cx="120.6" cy="316.9" r="1.25"/>
<circle cx="123.7" cy="321.2" r="1.25"/>
<circle cx="127" cy="324.4" r="1.25"/>
<circle cx="130.2" cy="326.9" r="1.25"/>
<circle cx="133.4" cy="329.1" r="1.25"/>
<circle cx="136.4" cy="331.3" r="1.25"/>
<circle cx="139.6" cy="334.2" r="1.25"/>
<circle cx="143" cy="337.1" r="1.25"/>
<circle cx="146.2" cy="339.3" r="1.25"/>
<circle cx="149.4" cy="341.5" r="1.25"/>
<circle cx="152.7" cy="342.9" r="1.25"/>
<circle cx="155.9" cy="344.4" r="1.25"/>
<circle cx="159.3" cy="346.3" r="1.25"/>
<circle cx="162.5" cy="346.8" r="1.25"/>
<circle cx="165.8" cy="348.3" r="1.25"/>
<circle cx="169" cy="350.2" r="1.25"/>
<circle cx="172.4" cy="352.1" r="1.25"/>
<circle cx="175.6" cy="353.5" r="1.25"/>
<circle cx="178.2" cy="355" r="1.25"/>
<circle cx="181.4" cy="355.4" r="1.25"/>
<circle cx="184.8" cy="355" r="1.25"/>
<circle cx="188.1" cy="354.8" r="1.25"/>
<circle cx="191.3" cy="355.1" r="1.25"/>
<circle cx="194.6" cy="355.7" r="1.25"/>
<circle cx="197.8" cy="356.3" r="1.25"/>
<circle cx="200.5" cy="356.9" r="1.25"/>
<circle cx="203.8" cy="357.6" r="1.25"/>
<circle cx="207" cy="358.4" r="1.25"/>
<circle cx="210.2" cy="359.4" r="1.25"/>
<circle cx="213.5" cy="360.5" r="1.25"/>
<circle cx="216.5" cy="361.3" r="1.25"/>
<circle cx="219.8" cy="362.3" r="1.25"/>
<circle cx="223" cy="364.2" r="1.25"/>
<circle cx="225.9" cy="366.4" r="1.25"/>
<circle cx="228.8" cy="368.5" r="1.25"/>
<circle cx="232" cy="371.2" r="1.25"/>
<circle cx="235.4" cy="373.2" r="1.25"/>
<circle cx="238.6" cy="375.4" r="1.25"/>
<circle cx="241.6" cy="378.4" r="1.25"/>
</g>
<path d="M37.1 225 V389.4 H260.5" fill="none" stroke="#3c3c3c" stroke-width="1.25"/>
<path d="M33.7 389.4 H37.1 M35.4 378.46 H37.1 M33.7 367.52 H37.1 M35.4 356.58 H37.1 M33.7 345.64 H37.1 M35.4 334.7 H37.1 M33.7 323.76 H37.1 M35.4 312.82 H37.1 M33.7 301.88 H37.1 M35.4 290.94 H37.1 M33.7 280 H37.1 M35.4 269.06 H37.1 M33.7 258.12 H37.1 M35.4 247.18 H37.1 M33.7 236.24 H37.1 M35.4 225.3 H37.1 M36.9 389.4 V391.1 M55.5 389.4 V392.8 M74.1 389.4 V391.1 M92.7 389.4 V392.8 M111.3 389.4 V391.1 M129.9 389.4 V392.8 M148.5 389.4 V391.1 M167.1 389.4 V392.8 M185.7 389.4 V391.1 M204.3 389.4 V392.8 M222.9 389.4 V391.1 M241.5 389.4 V392.8 M260.1 389.4 V391.1" fill="none" stroke="#2a2a2a" stroke-width="0.9"/>
<g class="tk" font-family='"Liberation Sans", sans-serif' font-size="7.1" fill="#262626">
<text x="31.1" y="391.41" text-anchor="end">0.00</text>
<text x="31.1" y="369.53" text-anchor="end">0.02</text>
<text x="31.1" y="347.65" text-anchor="end">0.04</text>
<text x="31.1" y="325.77" text-anchor="end">0.06</text>
<text x="31.1" y="303.89" text-anchor="end">0.08</text>
<text x="31.1" y="282.01" text-anchor="end">0.10</text>
<text x="31.1" y="260.13" text-anchor="end">0.12</text>
<text x="31.1" y="238.25" text-anchor="end">0.14</text>
<text x="55.5" y="400.31" text-anchor="middle">0.0</text>
<text x="92.7" y="400.31" text-anchor="middle">0.2</text>
<text x="129.9" y="400.31" text-anchor="middle">0.4</text>
<text x="167.1" y="400.31" text-anchor="middle">0.6</text>
<text x="204.3" y="400.31" text-anchor="middle">0.8</text>
<text x="241.5" y="400.31" text-anchor="middle">1.0</text>
</g>
<g font-family='"Liberation Serif", serif' font-size="8.0" fill="#1e1e1e">
<circle cx="62" cy="230.4" r="1.25" fill="#000"/>
<text x="73" y="232.8">PIV test</text>
<text x="73" y="242.4">Standard k-&#949;</text>
<text x="136.6" y="232.8">RSM</text>
<text x="136.6" y="242.4">Realizable k-&#949;</text>
<text x="198" y="232.8">Q=1.00m<tspan font-size="5.5" dy="-3">3</tspan><tspan dy="3">/s</tspan></text>
<text x="206.6" y="242.4">RNG k-&#949;</text>
</g>
<path d="M53 240 H70" stroke="#4444ff" stroke-width="1.6" stroke-dasharray="1.8 1.9"/>
<path d="M117 230.4 H134.4" stroke="#ff3030" stroke-width="1.4"/>
<path d="M117 240 H134.4" stroke="#f46cf4" stroke-width="1.0" stroke-dasharray="none"/>
<path d="M186.4 240 H204.4" stroke="#1fe01f" stroke-width="1.5" stroke-dasharray="3 1.4 0.7 1.5"/>
<text x="100.7" y="414.8" font-family='"Liberation Serif", serif' font-size="8.8" fill="#1e1e1e">Scaled radial position, X/R</text>
<text x="82" y="428.6" font-family='"Liberation Serif", serif' font-size="10.0" fill="#1e1e1e">(c) 1.00m<tspan font-size="5.6" dy="-3.0">3</tspan><tspan dy="3.0">/h circulation flux</tspan></text>
<text transform="translate(13.5 353.6) rotate(-90)" font-family='"Liberation Serif", serif' font-size="9.0" fill="#1e1e1e">Mean radial velocity(m/s)</text>
<clipPath id="clipd"><rect x="325" y="227" width="220.4" height="161.9"/></clipPath>
<g clip-path="url(#clipd)" fill="none" stroke-linejoin="round">
<path d="M344.00 309.70 L345.00 309.79 L346.00 309.89 L347.00 310.00 L348.00 310.13 L349.00 310.27 L350.00 310.44 L351.00 310.62 L352.00 310.82 L353.00 311.03 L354.00 311.26 L355.00 311.50 L356.00 311.76 L357.00 312.04 L358.00 312.35 L359.00 312.69 L360.00 313.06 L361.00 313.47 L362.00 313.90 L363.00 314.35 L364.00 314.81 L365.00 315.29 L366.00 315.78 L367.00 316.27 L368.00 316.76 L369.00 317.26 L370.00 317.76 L371.00 318.26 L372.00 318.77 L373.00 319.28 L374.00 319.79 L375.00 320.30 L376.00 320.80 L377.00 321.29 L378.00 321.77 L379.00 322.24 L380.00 322.69 L381.00 323.14 L382.00 323.57 L383.00 323.99 L384.00 324.41 L385.00 324.82 L386.00 325.22 L387.00 325.62 L388.00 326.01 L389.00 326.40 L390.00 326.78 L391.00 327.15 L392.00 327.52 L393.00 327.88 L394.00 328.23 L395.00 328.58 L396.00 328.93 L397.00 329.28 L398.00 329.64 L399.00 329.99 L400.00 330.36 L401.00 330.73 L402.00 331.11 L403.00 331.49 L404.00 331.89 L405.00 332.29 L406.00 332.70 L407.00 333.11 L408.00 333.53 L409.00 333.95 L410.00 334.37 L411.00 334.78 L412.00 335.20 L413.00 335.62 L414.00 336.05 L415.00 336.47 L416.00 336.89 L417.00 337.30 L418.00 337.71 L419.00 338.12 L420.00 338.51 L421.00 338.89 L422.00 339.25 L423.00 339.61 L424.00 339.95 L425.00 340.28 L426.00 340.60 L427.00 340.91 L428.00 341.21 L429.00 341.52 L430.00 341.82 L431.00 342.12 L432.00 342.42 L433.00 342.73 L434.00 343.03 L435.00 343.34 L436.00 343.66 L437.00 343.97 L438.00 344.28 L439.00 344.59 L440.00 344.90 L441.00 345.21 L442.00 345.52 L443.00 345.81 L444.00 346.11 L445.00 346.39 L446.00 346.68 L447.00 346.95 L448.00 347.22 L449.00 347.49 L450.00 347.75 L451.00 348.01 L452.00 348.27 L453.00 348.52 L454.00 348.77 L455.00 349.02 L456.00 349.27 L457.00 349.52 L458.00 349.77 L459.00 350.02 L460.00 350.27 L461.00 350.52 L462.00 350.76 L463.00 351.01 L464.00 351.25 L465.00 351.49 L466.00 351.74 L467.00 351.98 L468.00 352.22 L469.00 352.46 L470.00 352.70 L471.00 352.93 L472.00 353.17 L473.00 353.40 L474.00 353.64 L475.00 353.87 L476.00 354.11 L477.00 354.35 L478.00 354.59 L479.00 354.83 L480.00 355.08 L481.00 355.32 L482.00 355.57 L483.00 355.82 L484.00 356.07 L485.00 356.32 L486.00 356.56 L487.00 356.81 L488.00 357.06 L489.00 357.30 L490.00 357.54 L491.00 357.78 L492.00 358.01 L493.00 358.25 L494.00 358.47 L495.00 358.70 L496.00 358.92 L497.00 359.14 L498.00 359.35 L499.00 359.57 L500.00 359.77 L501.00 359.98 L502.00 360.19 L503.00 360.39 L504.00 360.60 L505.00 360.80 L506.00 361.00 L507.00 361.21 L508.00 361.42 L509.00 361.62 L510.00 361.83 L511.00 362.04 L512.00 362.26 L513.00 362.47 L514.00 362.69 L515.00 362.91 L516.00 363.13 L517.00 363.35 L518.00 363.58 L519.00 363.80 L520.00 364.03 L521.00 364.26 L522.00 364.48 L523.00 364.71 L524.00 364.94 L525.00 365.18 L526.00 365.41" stroke="#f46cf4" stroke-width="1.0" stroke-dasharray="3 0.4"/>
<path d="M344.50 342.10 L345.50 342.14 L346.50 342.17 L347.50 342.21 L348.50 342.25 L349.50 342.29 L350.50 342.33 L351.50 342.37 L352.50 342.42 L353.50 342.46 L354.50 342.51 L355.50 342.55 L356.50 342.60 L357.50 342.65 L358.50 342.70 L359.50 342.75 L360.50 342.81 L361.50 342.86 L362.50 342.92 L363.50 342.97 L364.50 343.03 L365.50 343.09 L366.50 343.15 L367.50 343.21 L368.50 343.28 L369.50 343.35 L370.50 343.42 L371.50 343.49 L372.50 343.56 L373.50 343.63 L374.50 343.70 L375.50 343.78 L376.50 343.85 L377.50 343.92 L378.50 343.99 L379.50 344.06 L380.50 344.14 L381.50 344.21 L382.50 344.28 L383.50 344.35 L384.50 344.43 L385.50 344.50 L386.50 344.57 L387.50 344.64 L388.50 344.72 L389.50 344.79 L390.50 344.86 L391.50 344.93 L392.50 345.00 L393.50 345.07 L394.50 345.13 L395.50 345.20 L396.50 345.27 L397.50 345.33 L398.50 345.40 L399.50 345.47 L400.50 345.55 L401.50 345.63 L402.50 345.71 L403.50 345.81 L404.50 345.91 L405.50 346.02 L406.50 346.15 L407.50 346.29 L408.50 346.43 L409.50 346.58 L410.50 346.73 L411.50 346.88 L412.50 347.03 L413.50 347.16 L414.50 347.28 L415.50 347.39 L416.50 347.50 L417.50 347.59 L418.50 347.68 L419.50 347.77 L420.50 347.86 L421.50 347.94 L422.50 348.03 L423.50 348.12 L424.50 348.21 L425.50 348.31 L426.50 348.41 L427.50 348.52 L428.50 348.62 L429.50 348.73 L430.50 348.84 L431.50 348.96 L432.50 349.07 L433.50 349.19 L434.50 349.30 L435.50 349.42 L436.50 349.54 L437.50 349.66 L438.50 349.78 L439.50 349.91 L440.50 350.03 L441.50 350.16 L442.50 350.28 L443.50 350.41 L444.50 350.53 L445.50 350.66 L446.50 350.79 L447.50 350.91 L448.50 351.03 L449.50 351.15 L450.50 351.27 L451.50 351.39 L452.50 351.51 L453.50 351.63 L454.50 351.75 L455.50 351.87 L456.50 352.00 L457.50 352.12 L458.50 352.26 L459.50 352.40 L460.50 352.54 L461.50 352.68 L462.50 352.83 L463.50 352.98 L464.50 353.13 L465.50 353.28 L466.50 353.42 L467.50 353.56 L468.50 353.69 L469.50 353.81 L470.50 353.92 L471.50 354.03 L472.50 354.13 L473.50 354.23 L474.50 354.33 L475.50 354.43 L476.50 354.54 L477.50 354.65 L478.50 354.78 L479.50 354.91 L480.50 355.04 L481.50 355.18 L482.50 355.33 L483.50 355.48 L484.50 355.64 L485.50 355.80 L486.50 355.96 L487.50 356.13 L488.50 356.29 L489.50 356.46 L490.50 356.63 L491.50 356.80 L492.50 356.96 L493.50 357.13 L494.50 357.30 L495.50 357.46 L496.50 357.63 L497.50 357.80 L498.50 357.96 L499.50 358.13 L500.50 358.30 L501.50 358.47 L502.50 358.64 L503.50 358.81 L504.50 358.98 L505.50 359.16 L506.50 359.34 L507.50 359.52 L508.50 359.70 L509.50 359.89 L510.50 360.08 L511.50 360.28 L512.50 360.47 L513.50 360.67 L514.50 360.88 L515.50 361.09 L516.50 361.30 L517.50 361.52 L518.50 361.74 L519.50 361.97 L520.50 362.19 L521.50 362.43 L522.50 362.66 L523.50 362.90 L524.50 363.14 L525.50 363.38 L526.00 363.50" stroke="#1fe01f" stroke-width="1.5" stroke-dasharray="3 1.2 0.8 1.2"/>
<path d="M345.50 334.50 L346.50 334.50 L347.50 334.51 L348.50 334.52 L349.50 334.52 L350.50 334.53 L351.50 334.54 L352.50 334.56 L353.50 334.57 L354.50 334.59 L355.50 334.61 L356.50 334.62 L357.50 334.64 L358.50 334.67 L359.50 334.69 L360.50 334.71 L361.50 334.74 L362.50 334.77 L363.50 334.80 L364.50 334.83 L365.50 334.87 L366.50 334.91 L367.50 334.96 L368.50 335.02 L369.50 335.08 L370.50 335.15 L371.50 335.22 L372.50 335.29 L373.50 335.36 L374.50 335.43 L375.50 335.49 L376.50 335.56 L377.50 335.62 L378.50 335.68 L379.50 335.74 L380.50 335.79 L381.50 335.84 L382.50 335.88 L383.50 335.93 L384.50 335.97 L385.50 336.02 L386.50 336.07 L387.50 336.12 L388.50 336.17 L389.50 336.22 L390.50 336.28 L391.50 336.34 L392.50 336.41 L393.50 336.48 L394.50 336.56 L395.50 336.64 L396.50 336.72 L397.50 336.81 L398.50 336.90 L399.50 337.00 L400.50 337.11 L401.50 337.22 L402.50 337.34 L403.50 337.47 L404.50 337.61 L405.50 337.76 L406.50 337.93 L407.50 338.12 L408.50 338.32 L409.50 338.53 L410.50 338.75 L411.50 338.97 L412.50 339.19 L413.50 339.41 L414.50 339.62 L415.50 339.82 L416.50 340.03 L417.50 340.22 L418.50 340.42 L419.50 340.62 L420.50 340.81 L421.50 341.01 L422.50 341.21 L423.50 341.41 L424.50 341.62 L425.50 341.83 L426.50 342.04 L427.50 342.26 L428.50 342.48 L429.50 342.70 L430.50 342.92 L431.50 343.14 L432.50 343.35 L433.50 343.56 L434.50 343.76 L435.50 343.96 L436.50 344.15 L437.50 344.34 L438.50 344.52 L439.50 344.70 L440.50 344.89 L441.50 345.07 L442.50 345.25 L443.50 345.43 L444.50 345.61 L445.50 345.80 L446.50 345.98 L447.50 346.18 L448.50 346.37 L449.50 346.57 L450.50 346.78 L451.50 346.98 L452.50 347.19 L453.50 347.40 L454.50 347.62 L455.50 347.83 L456.50 348.04 L457.50 348.25 L458.50 348.46 L459.50 348.66 L460.50 348.87 L461.50 349.07 L462.50 349.27 L463.50 349.47 L464.50 349.68 L465.50 349.88 L466.50 350.08 L467.50 350.29 L468.50 350.49 L469.50 350.70 L470.50 350.91 L471.50 351.13 L472.50 351.34 L473.50 351.56 L474.50 351.78 L475.50 352.01 L476.50 352.23 L477.50 352.46 L478.50 352.69 L479.50 352.92 L480.50 353.15 L481.50 353.39 L482.50 353.62 L483.50 353.86 L484.50 354.10 L485.50 354.33 L486.50 354.57 L487.50 354.81 L488.50 355.04 L489.50 355.27 L490.50 355.50 L491.50 355.73 L492.50 355.95 L493.50 356.17 L494.50 356.39 L495.50 356.60 L496.50 356.81 L497.50 357.01 L498.50 357.21 L499.50 357.41 L500.50 357.61 L501.50 357.80 L502.50 357.99 L503.50 358.18 L504.50 358.38 L505.50 358.57 L506.50 358.76 L507.50 358.96 L508.50 359.15 L509.50 359.35 L510.50 359.56 L511.50 359.76 L512.50 359.97 L513.50 360.18 L514.50 360.39 L515.50 360.61 L516.50 360.83 L517.50 361.05 L518.50 361.27 L519.50 361.50 L520.50 361.73 L521.50 361.96 L522.50 362.19 L523.50 362.42 L524.50 362.65 L525.50 362.89 L526.00 363.00" stroke="#4444ff" stroke-width="1.6" stroke-dasharray="1.8 1.8"/>
<path d="M344.00 301.20 L345.00 301.21 L346.00 301.21 L347.00 301.22 L348.00 301.23 L349.00 301.24 L350.00 301.25 L351.00 301.27 L352.00 301.29 L353.00 301.31 L354.00 301.33 L355.00 301.36 L356.00 301.39 L357.00 301.44 L358.00 301.49 L359.00 301.56 L360.00 301.64 L361.00 301.73 L362.00 301.85 L363.00 301.97 L364.00 302.11 L365.00 302.25 L366.00 302.41 L367.00 302.57 L368.00 302.75 L369.00 302.93 L370.00 303.13 L371.00 303.35 L372.00 303.58 L373.00 303.83 L374.00 304.09 L375.00 304.36 L376.00 304.65 L377.00 304.94 L378.00 305.24 L379.00 305.56 L380.00 305.89 L381.00 306.23 L382.00 306.59 L383.00 306.97 L384.00 307.37 L385.00 307.80 L386.00 308.25 L387.00 308.73 L388.00 309.21 L389.00 309.71 L390.00 310.20 L391.00 310.70 L392.00 311.20 L393.00 311.70 L394.00 312.22 L395.00 312.76 L396.00 313.34 L397.00 313.95 L398.00 314.60 L399.00 315.28 L400.00 316.00 L401.00 316.75 L402.00 317.53 L403.00 318.34 L404.00 319.16 L405.00 320.01 L406.00 320.87 L407.00 321.74 L408.00 322.61 L409.00 323.49 L410.00 324.35 L411.00 325.22 L412.00 326.06 L413.00 326.90 L414.00 327.71 L415.00 328.50 L416.00 329.28 L417.00 330.03 L418.00 330.75 L419.00 331.46 L420.00 332.14 L421.00 332.80 L422.00 333.43 L423.00 334.05 L424.00 334.65 L425.00 335.23 L426.00 335.80 L427.00 336.36 L428.00 336.90 L429.00 337.44 L430.00 337.96 L431.00 338.48 L432.00 338.99 L433.00 339.50 L434.00 340.00 L435.00 340.51 L436.00 341.01 L437.00 341.52 L438.00 342.02 L439.00 342.53 L440.00 343.03 L441.00 343.53 L442.00 344.03 L443.00 344.52 L444.00 345.00 L445.00 345.46 L446.00 345.92 L447.00 346.37 L448.00 346.81 L449.00 347.24 L450.00 347.67 L451.00 348.09 L452.00 348.50 L453.00 348.91 L454.00 349.31 L455.00 349.71 L456.00 350.10 L457.00 350.49 L458.00 350.88 L459.00 351.26 L460.00 351.64 L461.00 352.01 L462.00 352.38 L463.00 352.75 L464.00 353.11 L465.00 353.47 L466.00 353.82 L467.00 354.17 L468.00 354.52 L469.00 354.85 L470.00 355.18 L471.00 355.51 L472.00 355.83 L473.00 356.15 L474.00 356.46 L475.00 356.77 L476.00 357.08 L477.00 357.37 L478.00 357.67 L479.00 357.95 L480.00 358.24 L481.00 358.51 L482.00 358.78 L483.00 359.05 L484.00 359.31 L485.00 359.57 L486.00 359.82 L487.00 360.07 L488.00 360.31 L489.00 360.55 L490.00 360.78 L491.00 361.01 L492.00 361.24 L493.00 361.46 L494.00 361.68 L495.00 361.90 L496.00 362.11 L497.00 362.32 L498.00 362.53 L499.00 362.74 L500.00 362.94 L501.00 363.14 L502.00 363.34 L503.00 363.54 L504.00 363.73 L505.00 363.92 L506.00 364.11 L507.00 364.30 L508.00 364.48 L509.00 364.66 L510.00 364.83 L511.00 365.00 L512.00 365.17 L513.00 365.34 L514.00 365.50 L515.00 365.66 L516.00 365.82 L517.00 365.98 L518.00 366.13 L519.00 366.28 L520.00 366.42 L521.00 366.57 L522.00 366.71 L523.00 366.85 L524.00 366.98 L525.00 367.12 L526.00 367.25" stroke="#ff3030" stroke-width="1.2"/>
</g>
<g fill="#000000">
<circle cx="343" cy="252.6" r="1.25"/>
<circle cx="345.9" cy="252.6" r="1.25"/>
<circle cx="349.1" cy="253" r="1.25"/>
<circle cx="352.2" cy="253.4" r="1.25"/>
<circle cx="355.4" cy="254.9" r="1.25"/>
<circle cx="358.3" cy="256.3" r="1.25"/>
<circle cx="361.5" cy="257.8" r="1.25"/>
<circle cx="364.4" cy="258.8" r="1.25"/>
<circle cx="367.3" cy="260.3" r="1.25"/>
<circle cx="370.3" cy="261.7" r="1.25"/>
<circle cx="373.3" cy="263.5" r="1.25"/>
<circle cx="376.5" cy="265.7" r="1.25"/>
<circle cx="379.4" cy="268.6" r="1.25"/>
<circle cx="382.3" cy="272.2" r="1.25"/>
<circle cx="385.5" cy="276.3" r="1.25"/>
<circle cx="388.4" cy="280.6" r="1.25"/>
<circle cx="391.2" cy="285.7" r="1.25"/>
<circle cx="394.3" cy="290.4" r="1.25"/>
<circle cx="397.3" cy="294.8" r="1.25"/>
<circle cx="400.5" cy="299.2" r="1.25"/>
<circle cx="403.4" cy="303.4" r="1.25"/>
<circle cx="406.3" cy="307.4" r="1.25"/>
<circle cx="409.4" cy="311.6" r="1.25"/>
<circle cx="412.3" cy="316.2" r="1.25"/>
<circle cx="415.5" cy="320.4" r="1.25"/>
<circle cx="418.4" cy="323.6" r="1.25"/>
<circle cx="421.4" cy="326.3" r="1.25"/>
<circle cx="424.5" cy="328.4" r="1.25"/>
<circle cx="427.6" cy="330.6" r="1.25"/>
<circle cx="430.7" cy="333.2" r="1.25"/>
<circle cx="433.6" cy="335.5" r="1.25"/>
<circle cx="436.5" cy="337.9" r="1.25"/>
<circle cx="439.6" cy="340.5" r="1.25"/>
<circle cx="442.7" cy="342.6" r="1.25"/>
<circle cx="445.6" cy="344.3" r="1.25"/>
<circle cx="448.7" cy="346.3" r="1.25"/>
<circle cx="451.9" cy="347.6" r="1.25"/>
<circle cx="455.1" cy="348.8" r="1.25"/>
<circle cx="458.2" cy="350.3" r="1.25"/>
<circle cx="461.5" cy="351.5" r="1.25"/>
<circle cx="464.5" cy="352.7" r="1.25"/>
<circle cx="467.5" cy="353.7" r="1.25"/>
<circle cx="471.6" cy="354.5" r="1.25"/>
<circle cx="474.9" cy="355.8" r="1.25"/>
<circle cx="478.2" cy="356.9" r="1.25"/>
<circle cx="481.5" cy="358.2" r="1.25"/>
<circle cx="484.7" cy="359.5" r="1.25"/>
<circle cx="488" cy="360.2" r="1.25"/>
<circle cx="491.3" cy="361.8" r="1.25"/>
<circle cx="494.5" cy="363.1" r="1.25"/>
<circle cx="497.8" cy="364.2" r="1.25"/>
<circle cx="501.1" cy="365.1" r="1.25"/>
<circle cx="504.4" cy="366" r="1.25"/>
<circle cx="507.6" cy="366.9" r="1.25"/>
<circle cx="510.9" cy="367.8" r="1.25"/>
<circle cx="514.2" cy="368.5" r="1.25"/>
<circle cx="517.5" cy="369.1" r="1.25"/>
<circle cx="520.7" cy="369.6" r="1.25"/>
<circle cx="524" cy="370" r="1.25"/>
<circle cx="526.9" cy="370.4" r="1.25"/>
</g>
<path d="M324.4 227 V389.5 H544.8" fill="none" stroke="#3c3c3c" stroke-width="1.25"/>
<path d="M321 389.5 H324.4 M322.7 371 H324.4 M321 352.5 H324.4 M322.7 334 H324.4 M321 315.5 H324.4 M322.7 297 H324.4 M321 278.5 H324.4 M322.7 260 H324.4 M321 241.5 H324.4 M324.8 389.5 V391.2 M343.1 389.5 V392.9 M361.4 389.5 V391.2 M379.7 389.5 V392.9 M398 389.5 V391.2 M416.3 389.5 V392.9 M434.6 389.5 V391.2 M452.9 389.5 V392.9 M471.2 389.5 V391.2 M489.5 389.5 V392.9 M507.8 389.5 V391.2 M526.1 389.5 V392.9 M544.4 389.5 V391.2" fill="none" stroke="#2a2a2a" stroke-width="0.9"/>
<g class="tk" font-family='"Liberation Serif", serif' font-size="7.1" fill="#262626">
<text x="318.5" y="391.51" text-anchor="end">0.00</text>
<text x="318.5" y="354.51" text-anchor="end">0.05</text>
<text x="318.5" y="317.51" text-anchor="end">0.10</text>
<text x="318.5" y="280.51" text-anchor="end">0.15</text>
<text x="318.5" y="243.51" text-anchor="end">0.20</text>
<text x="343.1" y="400.41" text-anchor="middle">0.0</text>
<text x="379.7" y="400.41" text-anchor="middle">0.2</text>
<text x="416.3" y="400.41" text-anchor="middle">0.4</text>
<text x="452.9" y="400.41" text-anchor="middle">0.6</text>
<text x="489.5" y="400.41" text-anchor="middle">0.8</text>
<text x="526.1" y="400.41" text-anchor="middle">1.0</text>
</g>
<g font-family='"Liberation Serif", serif' font-size="8.0" fill="#1e1e1e">
<circle cx="349" cy="230.4" r="1.25" fill="#000"/>
<text x="359.6" y="232.8">PIV test</text>
<text x="359.6" y="242.4">Standard k-&#949;</text>
<text x="422" y="232.8">RSM</text>
<text x="422" y="242.4">Realizable k-&#949;</text>
<text x="482.4" y="232.8">Q=1.50m<tspan font-size="5.5" dy="-3">3</tspan><tspan dy="3">/s</tspan></text>
<text x="491" y="242.4">RNG k-&#949;</text>
</g>
<path d="M339.6 240 H355.6" stroke="#4444ff" stroke-width="1.6" stroke-dasharray="1.8 1.9"/>
<path d="M403 230.4 H420" stroke="#ff3030" stroke-width="1.4"/>
<path d="M403 240 H420" stroke="#f46cf4" stroke-width="1.0" stroke-dasharray="none"/>
<path d="M471 240 H489" stroke="#1fe01f" stroke-width="1.5" stroke-dasharray="3 1.4 0.7 1.5"/>
<text x="386.9" y="414.8" font-family='"Liberation Serif", serif' font-size="8.8" fill="#1e1e1e">Scaled radial position, X/R</text>
<text x="361.5" y="429.4" font-family='"Liberation Serif", serif' font-size="10.1" fill="#1e1e1e">(d) 1.50m<tspan font-size="5.6" dy="-3.0">3</tspan><tspan dy="3.0">/h circulation flux</tspan></text>
<text transform="translate(302.7 353.8) rotate(-90)" font-family='"Liberation Serif", serif' font-size="9.0" fill="#1e1e1e">Mean radial velocity(m/s)</text>
</svg>
</body></html>
